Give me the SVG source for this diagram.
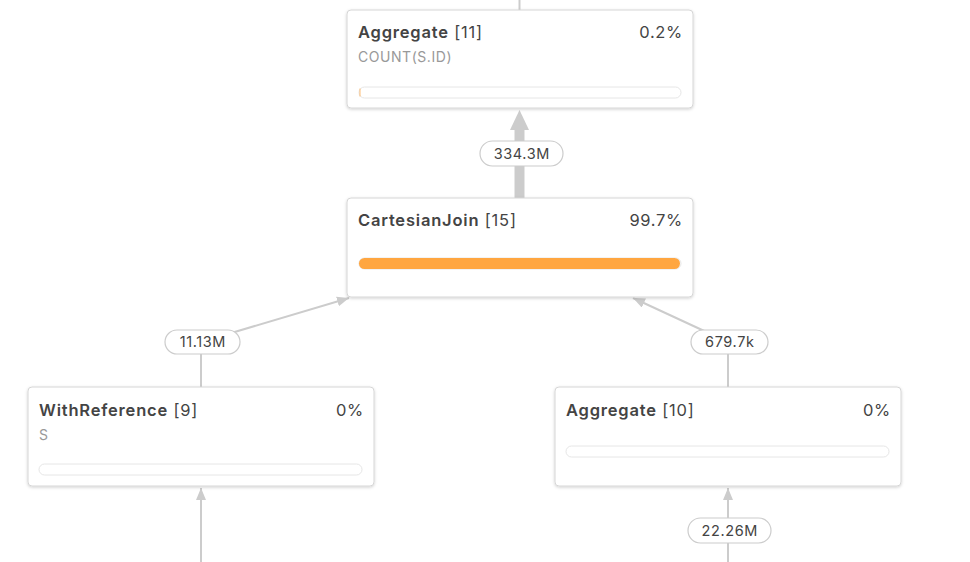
<svg xmlns="http://www.w3.org/2000/svg" width="970" height="562" viewBox="0 0 970 562">
<defs>
<style>
.node rect.box{fill:#fff;stroke:#d6d6d6;stroke-width:1;}
.title{font-family:Inter,"Liberation Sans",sans-serif;font-size:16.5px;letter-spacing:0.8px;fill:#444;}
.title .b{font-weight:600;}
.pct{font-family:Inter,"Liberation Sans",sans-serif;font-size:16.5px;letter-spacing:0.7px;fill:#444;text-anchor:end;}
.sub{font-family:Inter,"Liberation Sans",sans-serif;font-size:14px;letter-spacing:0.55px;fill:#999;}
.bar{fill:#fff;stroke:#e6e6e6;stroke-width:1;}
.fill{fill:#ffa640;}
.edge{fill:none;stroke:#cccccc;stroke-width:2;}
.pill{fill:#fff;stroke:#cccccc;stroke-width:1.2;}
.lbl{font-family:Inter,"Liberation Sans",sans-serif;font-size:14.5px;letter-spacing:0.6px;fill:#444;text-anchor:middle;}
</style>
<marker id="ah" viewBox="0 0 12 10" refX="12" refY="5" markerWidth="12" markerHeight="10" markerUnits="userSpaceOnUse" orient="auto">
<path d="M0,0 L12,5 L0,10 z" fill="#cccccc"/>
</marker>
<filter id="sh" x="-5%" y="-10%" width="110%" height="125%">
<feDropShadow dx="0" dy="1" stdDeviation="1.5" flood-color="#000" flood-opacity="0.18"/>
</filter>
</defs>

<g id="connectors">
<line class="edge" x1="519.5" y1="0" x2="519.5" y2="10"/>
<line x1="519.5" y1="198" x2="519.5" y2="128" stroke="#cccccc" stroke-width="10"/>
<polygon points="510,130 529,130 519.5,110" fill="#cccccc"/>
<polyline class="edge" points="201,387 201,342 349,298" marker-end="url(#ah)"/>
<polyline class="edge" points="728,387 728,342 633,298" marker-end="url(#ah)"/>
<line class="edge" x1="201" y1="562" x2="201" y2="488" marker-end="url(#ah)"/>
<line class="edge" x1="728" y1="562" x2="728" y2="488" marker-end="url(#ah)"/>
<g id="label-334">
<rect class="pill" x="480" y="141" width="83" height="25" rx="12.5"/>
<text class="lbl" x="521.8" y="158.5">334.3M</text>
</g>
<g id="label-11">
<rect class="pill" x="165" y="330" width="75" height="24" rx="12"/>
<text class="lbl" x="202.8" y="347">11.13M</text>
</g>
<g id="label-679">
<rect class="pill" x="691" y="330" width="77" height="24" rx="12"/>
<text class="lbl" x="729.8" y="347">679.7k</text>
</g>
<g id="label-22">
<rect class="pill" x="688" y="518" width="83" height="25" rx="12.5"/>
<text class="lbl" x="729.8" y="535.5">22.26M</text>
</g>
</g>

<g id="node-aggregate-11" class="node">
<rect class="box" x="347" y="10" width="346" height="98" rx="4" filter="url(#sh)"/>
<text class="title" x="358" y="37.5"><tspan class="b">Aggregate</tspan> [11]</text>
<text class="pct" x="683" y="37.5">0.2%</text>
<text class="sub" x="358" y="62">COUNT(S.ID)</text>
<rect class="bar" x="359" y="87" width="322" height="11" rx="5.5"/>
<rect class="fill" x="359.5" y="88.5" width="1" height="8" opacity="0.7"/>
</g>

<g id="node-cartesianjoin-15" class="node">
<rect class="box" x="347" y="198" width="346" height="99" rx="4" filter="url(#sh)"/>
<text class="title" x="358" y="225.5"><tspan class="b">CartesianJoin</tspan> [15]</text>
<text class="pct" x="683" y="225.5">99.7%</text>
<rect class="bar" x="359" y="258" width="322" height="11" rx="5.5"/>
<rect class="fill" x="359" y="258" width="321" height="11" rx="5.5"/>
</g>

<g id="node-withreference-9" class="node">
<rect class="box" x="28" y="387" width="346" height="99" rx="4" filter="url(#sh)"/>
<text class="title" x="39" y="415.5"><tspan class="b">WithReference</tspan> [9]</text>
<text class="pct" x="364" y="415.5">0%</text>
<text class="sub" x="39" y="440">S</text>
<rect class="bar" x="39" y="464" width="323" height="11" rx="5.5"/>
</g>

<g id="node-aggregate-10" class="node">
<rect class="box" x="555" y="387" width="346" height="99" rx="4" filter="url(#sh)"/>
<text class="title" x="566" y="415.5"><tspan class="b">Aggregate</tspan> [10]</text>
<text class="pct" x="891" y="415.5">0%</text>
<rect class="bar" x="566" y="446" width="323" height="11" rx="5.5"/>
</g>
</svg>
